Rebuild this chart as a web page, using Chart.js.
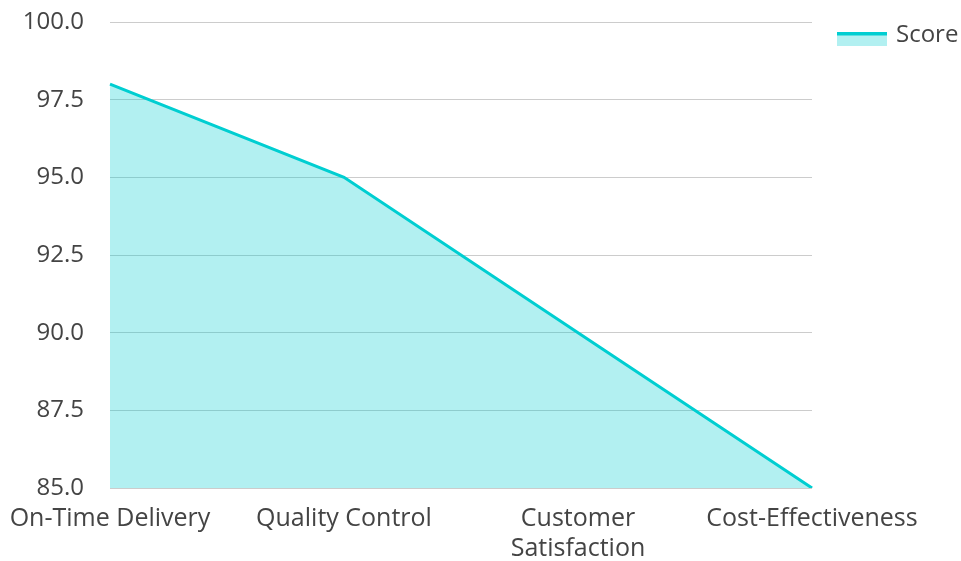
<!DOCTYPE html>
<html>
<head>
<meta charset="utf-8">
<title>Score</title>
<script src="https://cdn.jsdelivr.net/npm/chart.js@4.4.1/dist/chart.umd.min.js"></script>
<style>
  html, body { margin: 0; padding: 0; background: #ffffff; }
  #wrap { width: 961px; height: 561px; }
</style>
</head>
<body>
<div id="wrap"><canvas id="chart" width="961" height="561"></canvas></div>
<script>
// Categories (multi-line entries are arrays)
const categories = [
  'On-Time Delivery',
  'Quality Control',
  ['Customer', 'Satisfaction'],
  'Cost-Effectiveness'
];
const seriesName = 'Score';
const scores = [98, 95, 90, 85];
const yTicks = [85, 87.5, 90, 92.5, 95, 97.5, 100];

const LINE = '#00CED1';
const FILL = 'rgba(0, 206, 209, 0.3)';
const TEXT = '#444444';
const FONT = '"Open Sans", "Noto Sans", sans-serif';
const FONT_SIZE = 24;
const X_FONT_SIZE = 25;

// Legend drawn at the top right: a filled swatch topped by the line colour
const sideLegend = {
  id: 'sideLegend',
  afterDraw(chart) {
    const ctx = chart.ctx;
    const area = chart.chartArea;
    const x0 = area.right + 25;
    const y0 = area.top + 10;
    const w = 50, h = 14;
    chart.data.datasets.forEach((ds, i) => {
      const y = y0 + i * 32;
      ctx.save();
      ctx.fillStyle = ds.backgroundColor;
      ctx.fillRect(x0, y, w, h);
      ctx.fillStyle = ds.borderColor;
      ctx.fillRect(x0, y, w, 3.5);
      ctx.fillStyle = TEXT;
      ctx.font = FONT_SIZE + 'px ' + FONT;
      ctx.textAlign = 'left';
      ctx.textBaseline = 'middle';
      ctx.fillText(ds.label, x0 + w + 9, y + 3);
      ctx.restore();
    });
  }
};

new Chart(document.getElementById('chart'), {
  type: 'line',
  data: {
    labels: categories,
    datasets: [{
      label: seriesName,
      data: scores,
      borderColor: LINE,
      backgroundColor: FILL,
      borderWidth: 3,
      fill: 'start',
      tension: 0,
      pointRadius: 0,
      pointHoverRadius: 0
    }]
  },
  options: {
    responsive: false,
    animation: false,
    devicePixelRatio: 1,
    layout: { padding: { top: 22, right: 149, bottom: 0, left: 0 } },
    plugins: {
      legend: { display: false },
      tooltip: { enabled: false }
    },
    scales: {
      x: {
        offset: false,
        afterFit: (scale) => {
          scale.height = 73;
          scale.paddingLeft = 0;
          scale.paddingRight = 0;
        },
        grid: { display: false, drawTicks: false },
        border: { display: false },
        ticks: {
          color: TEXT,
          font: { family: FONT, size: X_FONT_SIZE, lineHeight: 1.2 },
          padding: 16,
          maxRotation: 0,
          autoSkip: false
        }
      },
      y: {
        min: 85,
        max: 100,
        afterFit: (scale) => { scale.width = 110; },
        afterBuildTicks: (scale) => { scale.ticks = yTicks.map(v => ({ value: v })); },
        grid: {
          color: '#cccccc',
          lineWidth: 1,
          drawTicks: true,
          tickLength: 26,
          tickColor: 'rgba(0, 0, 0, 0)'
        },
        border: { display: false },
        ticks: {
          color: TEXT,
          font: { family: FONT, size: FONT_SIZE },
          padding: 0,
          callback: (v) => Number(v).toFixed(1)
        }
      }
    }
  },
  plugins: [sideLegend]
});
</script>
</body>
</html>
